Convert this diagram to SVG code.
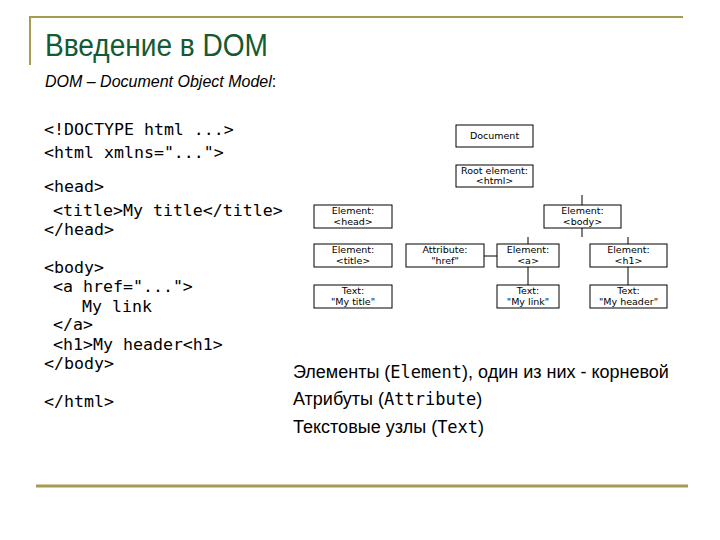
<svg xmlns="http://www.w3.org/2000/svg" width="720" height="540" viewBox="0 0 720 540">
<style>
.deco{stroke:#a59c52;fill:none}
.box rect{fill:#fff;stroke:#000;stroke-width:1}
.box text{font-family:"DejaVu Sans",sans-serif;font-size:9.5px;fill:#000;text-anchor:middle}
.code{font-family:"DejaVu Sans Mono",monospace;font-size:16.6px;fill:#000}
.legend{font-family:"Liberation Sans",Arial,sans-serif;font-size:18px;fill:#000}
.mono{font-family:"DejaVu Sans Mono",monospace;font-size:17px}
#connectors line{stroke:#000;stroke-width:1}
</style>
<rect width="720" height="540" fill="#fff"/>
<line class="deco" x1="29" y1="17" x2="683" y2="17" stroke-width="2"/>
<line class="deco" x1="30" y1="17" x2="30" y2="65" stroke-width="2"/>
<line class="deco" x1="36" y1="486" x2="688" y2="486" stroke-width="3"/>
<text x="45" y="56" font-family="Liberation Sans,Arial,sans-serif" font-size="31" fill="#145a32" textLength="223" lengthAdjust="spacingAndGlyphs">Введение в DOM</text>
<text x="45" y="87" font-family="Liberation Sans,Arial,sans-serif" font-size="16" font-style="italic" fill="#000">DOM – Document Object Model<tspan font-style="normal">:</tspan></text>
<g id="code" class="code">
<text x="44" y="135">&lt;!DOCTYPE html ...&gt;</text>
<text x="44" y="158">&lt;html xmlns="..."&gt;</text>
<text x="44" y="192">&lt;head&gt;</text>
<text x="53" y="216">&lt;title&gt;My title&lt;/title&gt;</text>
<text x="44" y="235">&lt;/head&gt;</text>
<text x="44" y="273">&lt;body&gt;</text>
<text x="53" y="292">&lt;a href="..."&gt;</text>
<text x="82" y="312">My link</text>
<text x="53" y="330">&lt;/a&gt;</text>
<text x="53" y="350">&lt;h1&gt;My header&lt;h1&gt;</text>
<text x="44" y="369">&lt;/body&gt;</text>
<text x="44" y="407">&lt;/html&gt;</text>
</g>
<g id="connectors">
<line x1="582" y1="195" x2="582" y2="205"/>
<line x1="582" y1="228" x2="582" y2="237"/>
<line x1="528" y1="237" x2="528" y2="244"/>
<line x1="628" y1="237" x2="628" y2="244"/>
<line x1="484" y1="256" x2="497" y2="256"/>
<line x1="528" y1="267" x2="528" y2="285"/>
<line x1="628" y1="267" x2="628" y2="285"/>
</g>
<g id="n-document" class="box"><rect x="456" y="125" width="77" height="22"/><text x="494.5" y="139">Document</text></g>
<g id="n-root" class="box"><rect x="456" y="165" width="77" height="22"/><text x="494.5" y="174">Root element:</text><text x="494.5" y="184">&lt;html&gt;</text></g>
<g id="n-head" class="box"><rect x="314" y="205" width="78" height="23"/><text x="353" y="214">Element:</text><text x="353" y="225">&lt;head&gt;</text></g>
<g id="n-body" class="box"><rect x="544" y="205" width="77" height="23"/><text x="582.5" y="214">Element:</text><text x="582.5" y="225">&lt;body&gt;</text></g>
<g id="n-title" class="box"><rect x="314" y="244" width="78" height="23"/><text x="353" y="253">Element:</text><text x="353" y="264">&lt;title&gt;</text></g>
<g id="n-href" class="box"><rect x="406" y="244" width="78" height="23"/><text x="445" y="253">Attribute:</text><text x="445" y="264">"href"</text></g>
<g id="n-a" class="box"><rect x="497" y="244" width="62" height="23"/><text x="528" y="253">Element:</text><text x="528" y="264">&lt;a&gt;</text></g>
<g id="n-h1" class="box"><rect x="590" y="244" width="77" height="23"/><text x="628.5" y="253">Element:</text><text x="628.5" y="264">&lt;h1&gt;</text></g>
<g id="n-text-title" class="box"><rect x="314" y="285" width="78" height="23"/><text x="353" y="294">Text:</text><text x="353" y="305">"My title"</text></g>
<g id="n-text-link" class="box"><rect x="497" y="285" width="62" height="23"/><text x="528" y="294">Text:</text><text x="528" y="305">"My link"</text></g>
<g id="n-text-header" class="box"><rect x="590" y="285" width="77" height="23"/><text x="628.5" y="294">Text:</text><text x="628.5" y="305">"My header"</text></g>
<g id="legend" class="legend">
<text x="293" y="378">Элементы (<tspan class="mono">Element</tspan>), один из них - корневой</text>
<text x="293" y="405">Атрибуты (<tspan class="mono">Attribute</tspan>)</text>
<text x="293" y="433">Текстовые узлы (<tspan class="mono">Text</tspan>)</text>
</g>
</svg>
